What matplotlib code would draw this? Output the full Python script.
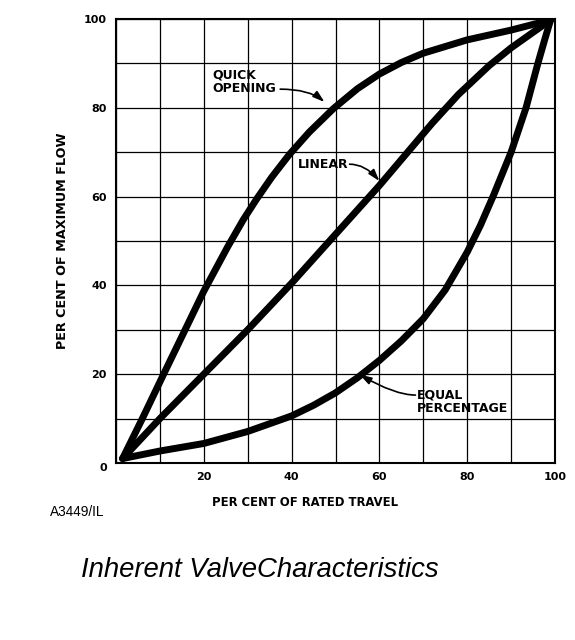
import matplotlib.pyplot as plt
import numpy as np

# Data
travel_quick = [1.5, 6, 10.7, 15.5, 20, 25.5, 29, 32, 35.5, 39.5, 44, 49.5, 55, 60, 65, 70, 80, 90, 99]
flow_quick = [1, 10, 19.7, 29.5, 38.7, 48.8, 54.8, 59.4, 64.4, 69.5, 74.5, 79.8, 84.3, 87.6, 90.2, 92.3, 95.3, 97.5, 99.8]

travel_linear = [1.5, 10, 20, 30, 40, 50, 60, 66, 72, 78, 85, 90, 99]
flow_linear = [1, 10, 20, 30, 40.5, 51.5, 62.5, 69.5, 76.5, 83, 89.5, 93.5, 99.8]

travel_equal = [1.5, 10, 20, 30, 40, 45, 50, 55, 60, 65, 70, 75, 80, 83, 86, 90, 93.4, 96.1, 97.7, 99]
flow_equal = [1, 2.7, 4.4, 7.1, 10.6, 13, 15.8, 19.2, 23.1, 27.5, 32.5, 39, 47.5, 53.5, 60.3, 70, 80, 90, 95.5, 99.8]

x_ticks = [0, 20, 40, 60, 80, 100]
x_ticklabels = ['', '20', '40', '60', '80', '100']
y_ticks = [0, 20, 40, 60, 80, 100]
y_ticklabels = ['0', '20', '40', '60', '80', '100']

# Plot
fig = plt.figure(figsize=(5.75, 6.4), dpi=100)
ax = fig.add_axes([116/575, 1 - 463/640, 439/575, 444/640])

for xs, ys in [(travel_quick, flow_quick), (travel_linear, flow_linear), (travel_equal, flow_equal)]:
    ax.plot(xs, ys, color='black', lw=5, solid_capstyle='round', solid_joinstyle='round')

ax.set_xlim(0, 100)
ax.set_ylim(0, 100)
ax.set_xticks(x_ticks)
ax.set_xticklabels(x_ticklabels)
ax.set_yticks(y_ticks)
ax.set_yticklabels(y_ticklabels)
ax.set_xticks(np.arange(10, 100, 20), minor=True)
ax.set_yticks(np.arange(10, 100, 20), minor=True)
ax.grid(True, which='both', color='black', lw=0.9)
ax.tick_params(which='both', length=0, labelsize=8, pad=6.5)
for lab in ax.get_xticklabels() + ax.get_yticklabels():
    lab.set_fontweight('bold')
ax.get_yticklabels()[0].set_va('top')
for s in ax.spines.values():
    s.set_linewidth(1.5)

bold = dict(fontsize=9, fontweight='bold', color='black')
arrow = dict(arrowstyle='-|>,head_length=0.7,head_width=0.22', color='black', lw=1.2,
             shrinkA=0, shrinkB=0)

ax.text(22, 85.8, 'QUICK\nOPENING', ha='left', va='center', linespacing=1.05, **bold)
ax.annotate('', xy=(47.5, 81.3), xytext=(37.4, 84.2),
            arrowprops=dict(connectionstyle='angle3,angleA=0,angleB=-40', **arrow))

ax.text(41.4, 67.3, 'LINEAR', ha='left', va='center', **bold)
ax.annotate('', xy=(60, 63.5), xytext=(53.2, 67.3),
            arrowprops=dict(connectionstyle='angle3,angleA=0,angleB=-50', **arrow))

ax.text(68.6, 13.9, 'EQUAL\nPERCENTAGE', ha='left', va='center', linespacing=1.05, **bold)
ax.annotate('', xy=(55.5, 19.9), xytext=(68.2, 15.3),
            arrowprops=dict(connectionstyle='angle3,angleA=180,angleB=150', **arrow))

fig.text(305/575, 1 - 503/640, 'PER CENT OF RATED TRAVEL', ha='center', va='center',
         fontsize=8.4, fontweight='bold')
fig.text(62/575, 1 - 241/640, 'PER CENT OF MAXIMUM FLOW', ha='center', va='center',
         rotation=90, fontsize=9.2, fontweight='bold')
fig.text(50/575, 1 - 512/640, 'A3449/IL', ha='left', va='center', fontsize=9.8,
         family='Liberation Sans')
fig.text(260/575, 1 - 570/640, 'Inherent ValveCharacteristics', ha='center', va='center',
         fontsize=19.8, style='italic', family='Liberation Sans')

fig.savefig('out.png', dpi=100)
